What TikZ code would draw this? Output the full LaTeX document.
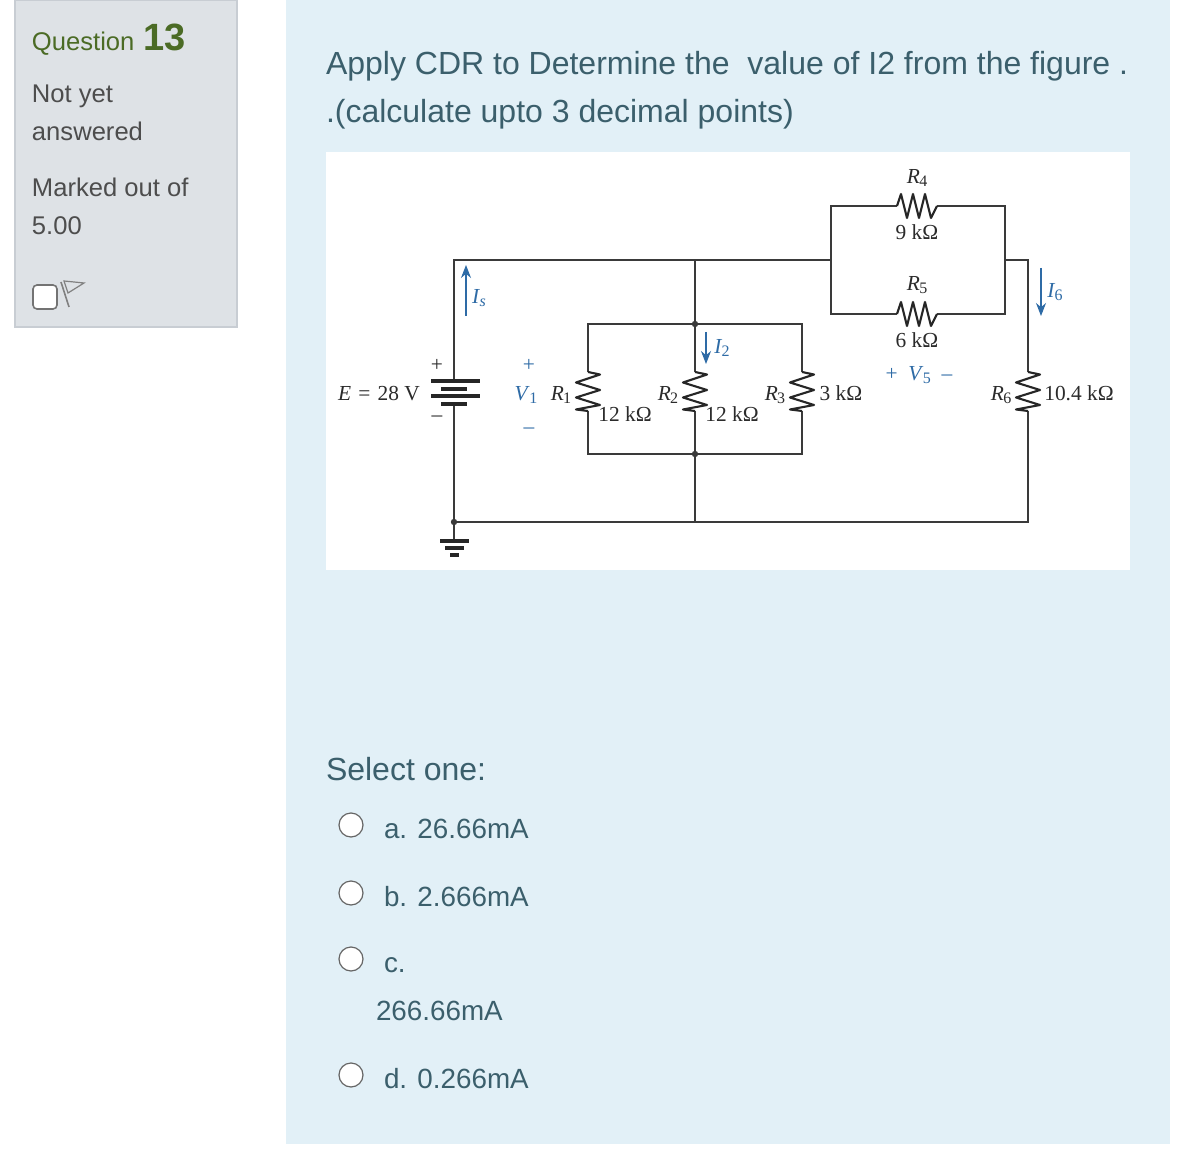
\documentclass[tikz,border=0pt]{standalone}
\usepackage{fontspec}
\setmainfont{Liberation Sans}
\newfontfamily\serifdg{Liberation Serif}
\usetikzlibrary{arrows.meta}
\definecolor{panelbg}{HTML}{E2F0F7}
\definecolor{sidebg}{HTML}{DEE2E6}
\definecolor{sideline}{HTML}{C8CDD3}
\definecolor{qtext}{HTML}{3B5F6C}
\definecolor{stext}{HTML}{4D4D4D}
\definecolor{qgreen}{HTML}{4B6B25}
\definecolor{cblue}{HTML}{2E6BA6}
\definecolor{wirec}{HTML}{3A3A3A}
\definecolor{dgtext}{HTML}{2B2B2B}
\tikzset{
  txt/.style={anchor=base west,inner sep=0pt,outer sep=0pt},
  qline/.style={txt,text=qtext,font=\fontsize{16}{19}\selectfont},
  opt/.style={txt,text=qtext,font=\fontsize{13.9}{18}\selectfont},
  sline/.style={txt,text=stext,font=\fontsize{12.8}{16}\selectfont},
  dg/.style={inner sep=0pt,outer sep=0pt,anchor=base,text=dgtext,font=\serifdg\fontsize{10.7}{12}\selectfont},
  dgb/.style={dg,text=cblue},
  wire/.style={draw=wirec,line width=0.55pt},
  res/.style={draw=black!85,line width=1.05pt,line join=round},
  plate/.style={draw=black!85,line width=#1},
  cur/.style={draw=cblue,line width=0.55pt,-{Stealth[length=6.5pt,width=5pt,fill=cblue]}},
  jdot/.style={circle,fill=wirec,inner sep=0pt,minimum size=3.2pt},
  radio/.style={circle,draw=black!60,fill=white,line width=0.6pt,minimum size=12pt,inner sep=0pt},
}
\newcommand{\Sym}[2]{\textit{#1}\kern-0.3pt\raisebox{-0.3ex}{\fontsize{8}{8}\selectfont #2}}
\newcommand{\vres}[1]{\draw[res] (#1) -- ++(12,2.5) -- ++(-24,8) -- ++(24,7.5) -- ++(-24,7.5) -- ++(24,7.5) -- ++(-24,4.5) -- ++(12,1.5);}
\newcommand{\hres}[1]{\draw[res] (#1) -- ++(4,-12) -- ++(6,24) -- ++(6,-24) -- ++(6,24) -- ++(6,-24) -- ++(6,24) -- ++(6,-12);}
\begin{document}
\begin{tikzpicture}[x=0.5pt,y=-0.5pt]
\useasboundingbox (0,0) rectangle (1198,1170);
\fill[white] (0,0) rectangle (1198,1170);
% sidebar
\filldraw[fill=sidebg,draw=sideline,line width=0.8pt] (15,0) rectangle (237,327);
\node[txt,text=qgreen,font=\fontsize{12.8}{16}\selectfont] (qlabel) at (32,51) {Question};
\node[txt,text=qgreen,font=\fontsize{19}{22}\selectfont\bfseries] (qnum) at (143,51) {13};
\node[sline] (s1) at (32,103) {Not yet};
\node[sline] (s2) at (32,141) {answered};
\node[sline] (s3) at (32,197) {Marked out of};
\node[sline] (s4) at (32,235) {5.00};
\draw[draw=black!55,fill=white,line width=0.8pt,rounded corners=2pt] (33,285) rectangle (57,309);
\draw[draw=black!50,line width=0.8pt] (69,307) -- (61,282);
\draw[draw=black!50,line width=0.6pt] (64,281) -- (84,283) -- (68,293) -- cycle;
% panel
\fill[panelbg] (286,0) rectangle (1170,1144);
\node[qline] (q1) at (326,75) {Apply CDR to Determine the\ \ value of I2 from the figure .};
\node[qline] (q2) at (326,123) {.(calculate upto 3 decimal points)};
\fill[white] (326,152) rectangle (1130,570);
% coordinates
\coordinate (bt) at (454,260);
\coordinate (bb) at (454,522);
\coordinate (m) at (695,260);
\coordinate (mb) at (695,522);
\coordinate (pl) at (831,260);
\coordinate (pr) at (1005,260);
\coordinate (rt) at (1028,260);
\coordinate (rb) at (1028,522);
\coordinate (r1t) at (588,372); \coordinate (r1b) at (588,411);
\coordinate (r2t) at (695,372); \coordinate (r2b) at (695,411);
\coordinate (r3t) at (802,372); \coordinate (r3b) at (802,411);
\coordinate (r6t) at (1028,372); \coordinate (r6b) at (1028,411);
\coordinate (r4l) at (897,206); \coordinate (r4r) at (937,206);
\coordinate (r5l) at (897,314); \coordinate (r5r) at (937,314);
\coordinate (ptop) at (695,324);
\coordinate (pbot) at (695,454);
\coordinate (batt) at (454,381);
\coordinate (battb) at (454,405);
\coordinate (gnd) at (454,541);
% wires
\draw[wire] (batt) -- (bt) -- (pl);
\draw[wire] (pr) -- (rt) -- (r6t);
\draw[wire] (r6b) -- (rb) -- (bb) -- (battb);
\draw[wire] (bb) -- (gnd);
\draw[wire] (m) -- (ptop) -- (r2t);
\draw[wire] (r2b) -- (pbot) -- (mb);
\draw[wire] (r1t) |- (ptop) -| (r3t);
\draw[wire] (r1b) |- (pbot) -| (r3b);
\draw[wire] (r4l) -| (pl) |- (r5l);
\draw[wire] (r4r) -| (pr) |- (r5r);
\vres{r1t} \vres{r2t} \vres{r3t} \vres{r6t}
\hres{r4l} \hres{r5l}
\node[jdot] (d1) at (ptop) {};
\node[jdot] (d2) at (pbot) {};
\node[jdot] (d3) at (bb) {};
% battery
\draw[plate=2.4pt] (431,381) -- (480,381);
\draw[plate=2.4pt] (441,389) -- (467,389);
\draw[plate=2.4pt] (431,396) -- (480,396);
\draw[plate=2.4pt] (441,404) -- (467,404);
% ground
\draw[plate=2pt] (440,541) -- (469,541);
\draw[plate=2pt] (445,548) -- (464,548);
\draw[plate=2pt] (450,555) -- (459,555);
% labels
\node[dg] (lE) at (379,401) {\textit{E}\hspace{3.6pt}=\hspace{3.6pt}28 V};
\node[dg] (lbp) at (437,372) {+};
\node[dg] (lbm) at (437,422) {–};
\node[dgb] (lvp) at (529,372) {+};
\node[dgb] (lv) at (526,401) {\Sym{V}{1}};
\node[dgb] (lvm) at (529,434) {–};
\node[dg] (lr1) at (561,401) {\Sym{R}{1}};
\node[dg] (l1k) at (625,422) {12 kΩ};
\node[dg] (lr2) at (668,401) {\Sym{R}{2}};
\node[dg] (l2k) at (732,422) {12 kΩ};
\node[dg] (lr3) at (775,401) {\Sym{R}{3}};
\node[dg] (l3k) at (841,401) {3 kΩ};
\node[dg] (lr4) at (917,184) {\Sym{R}{4}};
\node[dg] (l4k) at (917,240) {9 kΩ};
\node[dg] (lr5) at (917,291) {\Sym{R}{5}};
\node[dg] (l5k) at (917,348) {6 kΩ};
\node[dgb] (lv5) at (919,381) {+\ \ \Sym{V}{5}\ \ –};
\node[dg] (lr6) at (1001,401) {\Sym{R}{6}};
\node[dg] (l6k) at (1079,401) {10.4 kΩ};
% currents
\coordinate (isb) at (466,316); \coordinate (ist) at (466,265);
\coordinate (i2t) at (706,332); \coordinate (i2b) at (706,364);
\coordinate (i6t) at (1041,268); \coordinate (i6b) at (1041,316);
\draw[cur] (isb) -- (ist);
\draw[cur] (i2t) -- (i2b);
\draw[cur] (i6t) -- (i6b);
\node[dgb] (lis) at (479,304) {\Sym{I}{\textit{s}}};
\node[dgb] (li2) at (722,354) {\Sym{I}{2}};
\node[dgb] (li6) at (1055,298) {\Sym{I}{6}};
% options
\node[txt,text=qtext,font=\fontsize{16}{18}\selectfont] (sel) at (326,780) {Select one:};
\node[radio] (ra) at (351,825) {};
\node[opt] (oa) at (384,838) {a. 26.66mA};
\node[radio] (rb2) at (351,893) {};
\node[opt] (ob) at (384,906) {b. 2.666mA};
\node[radio] (rc) at (351,959) {};
\node[opt] (oc) at (384,972) {c.};
\node[opt] (oc2) at (376,1020) {266.66mA};
\node[radio] (rd) at (351,1075) {};
\node[opt] (od) at (384,1088) {d. 0.266mA};
\end{tikzpicture}
\end{document}
